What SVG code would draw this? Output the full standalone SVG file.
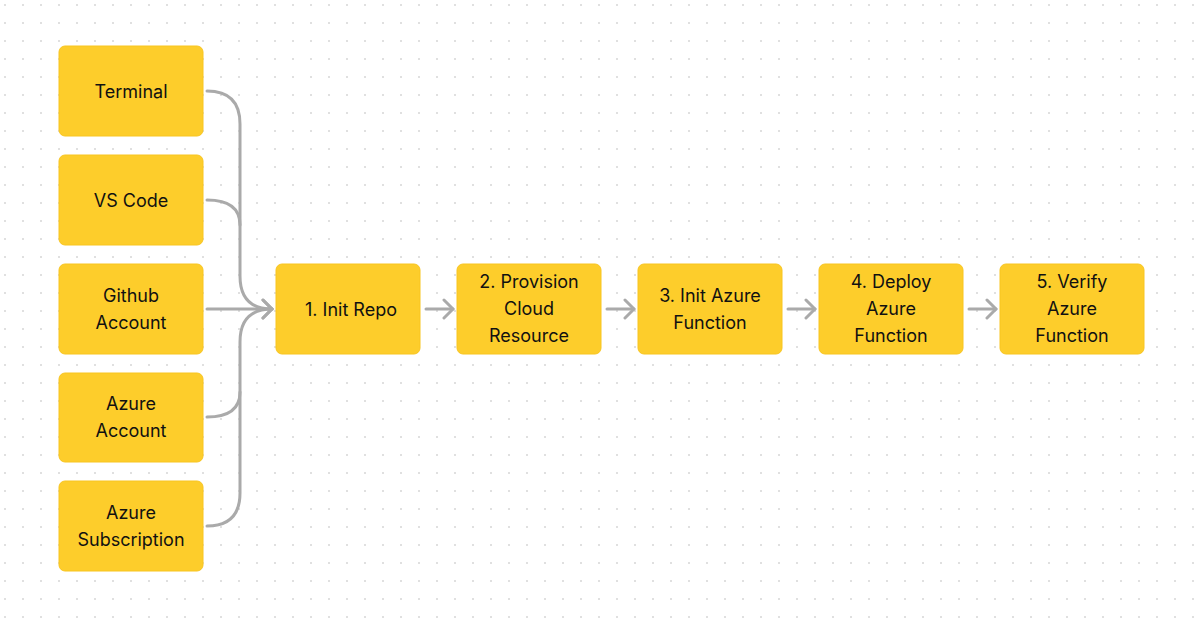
<svg xmlns="http://www.w3.org/2000/svg" width="1200" height="632" viewBox="0 0 1200 632">
<defs>
<pattern id="dots" width="18" height="18" patternUnits="userSpaceOnUse" x="4" y="4"><circle cx="1" cy="1" r="1" fill="#d6d6d6"/></pattern>
<marker id="ah" markerWidth="20" markerHeight="22" refX="14" refY="11" orient="auto" markerUnits="userSpaceOnUse"><path d="M5 2 L14 11 L5 20" fill="none" stroke="#aaaaaa" stroke-width="3" stroke-linecap="round" stroke-linejoin="round"/></marker>
</defs>
<style>
.n{fill:#fdcd2b;stroke:#f8c521;stroke-width:1}
.t{font-family:Inter,"Liberation Sans",sans-serif;font-size:18px;fill:#111111;text-anchor:middle}
.c{fill:none;stroke:#aaaaaa;stroke-width:3;stroke-linecap:round}
</style>
<rect width="1200" height="632" fill="#ffffff"/>
<rect width="1200" height="632" fill="url(#dots)"/>
<g id="connectors">
<path class="c" d="M207 91 Q240 91 240 124 L240 276 Q240 309 272 309" marker-end="url(#ah)"/>
<path class="c" d="M207 200 Q240 200 240 225"/>
<path class="c" d="M207 309 L272 309" marker-end="url(#ah)"/>
<path class="c" d="M207 417 Q240 417 240 392"/>
<path class="c" d="M207 526 Q240 526 240 493 L240 342 Q240 309 272 309"/>
<path class="c" d="M426 309 L453 309" marker-end="url(#ah)"/>
<path class="c" d="M607 309 L634 309" marker-end="url(#ah)"/>
<path class="c" d="M788 309 L815 309" marker-end="url(#ah)"/>
<path class="c" d="M969 309 L996 309" marker-end="url(#ah)"/>
</g>
<g id="terminal"><rect class="n" x="59" y="46" width="144" height="90" rx="6"/><text class="t" x="131" y="98">Terminal</text></g>
<g id="vscode"><rect class="n" x="59" y="155" width="144" height="90" rx="6"/><text class="t" x="131" y="207">VS Code</text></g>
<g id="github"><rect class="n" x="59" y="264" width="144" height="90" rx="6"/><text class="t" x="131" y="302">Github</text><text class="t" x="131" y="329">Account</text></g>
<g id="azureacc"><rect class="n" x="59" y="373" width="144" height="89" rx="6"/><text class="t" x="131" y="410">Azure</text><text class="t" x="131" y="437">Account</text></g>
<g id="azuresub"><rect class="n" x="59" y="481" width="144" height="90" rx="6"/><text class="t" x="131" y="519">Azure</text><text class="t" x="131" y="546">Subscription</text></g>
<g id="step1"><rect class="n" x="276" y="264" width="144" height="90" rx="6"/><text class="t" x="351" y="316">1. Init Repo</text></g>
<g id="step2"><rect class="n" x="457" y="264" width="144" height="90" rx="6"/><text class="t" x="529" y="288">2. Provision</text><text class="t" x="529" y="315">Cloud</text><text class="t" x="529" y="342">Resource</text></g>
<g id="step3"><rect class="n" x="638" y="264" width="144" height="90" rx="6"/><text class="t" x="710" y="302">3. Init Azure</text><text class="t" x="710" y="329">Function</text></g>
<g id="step4"><rect class="n" x="819" y="264" width="144" height="90" rx="6"/><text class="t" x="891" y="288">4. Deploy</text><text class="t" x="891" y="315">Azure</text><text class="t" x="891" y="342">Function</text></g>
<g id="step5"><rect class="n" x="1000" y="264" width="144" height="90" rx="6"/><text class="t" x="1072" y="288">5. Verify</text><text class="t" x="1072" y="315">Azure</text><text class="t" x="1072" y="342">Function</text></g>
</svg>
